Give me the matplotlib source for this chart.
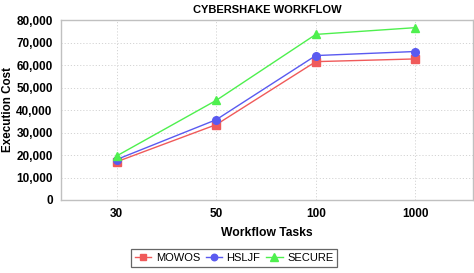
import matplotlib
matplotlib.use("Agg")
import matplotlib.pyplot as plt

categories = ["30", "50", "100", "1000"]
mowos = [17000, 33500, 61500, 62700]
hsljf = [18000, 35700, 64200, 66000]
secure = [19600, 44300, 73600, 76600]
yticks = [0, 10000, 20000, 30000, 40000, 50000, 60000, 70000, 80000]

plt.rcParams['font.family'] = ['Liberation Sans', 'DejaVu Sans']

fig = plt.figure(figsize=(4.74, 2.73), dpi=100)
ax = fig.add_axes([0.1287, 0.2674, 0.8693, 0.6593])

x = list(range(len(categories)))
ax.plot(x, mowos, color='#f05a5a', marker='s', markersize=5.5, lw=1.0, label='MOWOS')
ax.plot(x, hsljf, color='#5a5af0', marker='o', markersize=5.5, lw=1.0, label='HSLJF')
ax.plot(x, secure, color='#4ef04e', marker='^', markersize=6, lw=1.0, label='SECURE')

ax.set_xlim(-0.56, 3.58)
ax.set_ylim(0, 80000)
ax.set_xticks(x)
ax.set_xticklabels(categories, fontsize=8.5, fontweight='bold')
ax.set_yticks(yticks)
ax.set_yticklabels([f"{v:,}" for v in yticks], fontsize=8.5, fontweight='bold')
ax.tick_params(length=0, pad=6)
ax.grid(True, color='#d4d4d4', linestyle=(0, (1.2, 2)), linewidth=0.7)
for s in ax.spines.values():
    s.set_color('#c0c0c0')
    s.set_linewidth(1.0)

ax.set_title('CYBERSHAKE WORKFLOW', fontsize=8, fontweight='bold', pad=5)
ax.set_xlabel('Workflow Tasks', fontsize=8.7, fontweight='bold', labelpad=5)
fig.text(8/474, 1 - 110/273, 'Execution Cost', rotation=90, ha='center', va='center',
         fontsize=8.4, fontweight='bold')

leg = fig.legend(loc='center', bbox_to_anchor=(234/474, 1 - 258/273), ncol=3,
                 fontsize=8, frameon=True, fancybox=False, handlelength=1.5,
                 handletextpad=0.4, columnspacing=0.5, borderpad=0.35, markerscale=0.85)
leg.get_frame().set_edgecolor('#404040')
leg.get_frame().set_linewidth(0.9)

fig.savefig('out.png', dpi=100)
